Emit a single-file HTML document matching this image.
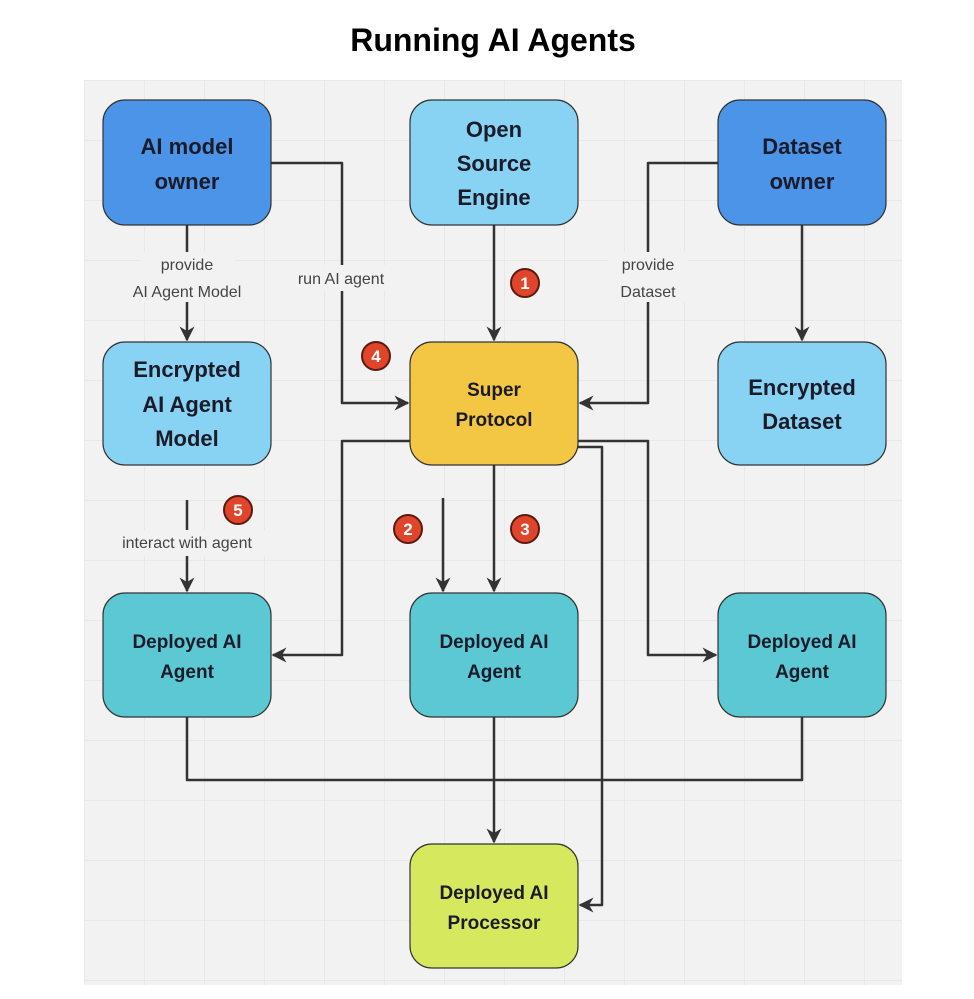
<!DOCTYPE html>
<html><head><meta charset="utf-8"><style>
body{margin:0;background:#fff;width:974px;height:994px;overflow:hidden;font-family:"Liberation Sans",sans-serif}
</style></head><body>
<svg width="974" height="994" viewBox="0 0 974 994" xmlns="http://www.w3.org/2000/svg" font-family="Liberation Sans, sans-serif">
<defs>
<pattern id="g" width="60" height="60" patternUnits="userSpaceOnUse" x="84" y="80">
<path d="M0 0H60M0 0V60" stroke="#e4e4e4" stroke-width="1.5" fill="none"/>
</pattern>
<marker id="a" viewBox="0 0 10 10" refX="9" refY="5" markerWidth="6" markerHeight="6" orient="auto"><path d="M0 0L10 5L0 10L3 5Z" fill="#333"/></marker>
</defs>
<text x="493" y="51" text-anchor="middle" font-size="32" font-weight="bold" fill="#000">Running AI Agents</text>
<rect x="84" y="80" width="818" height="905" fill="#f2f2f2"/>
<rect x="84" y="80" width="818" height="905" fill="url(#g)"/>
<g stroke="#333" stroke-width="2.5" fill="none" stroke-linejoin="round">
<path d="M271 163H342V403H408" marker-end="url(#a)"/>
<path d="M187 225V340" marker-end="url(#a)"/>
<path d="M494 225V340" marker-end="url(#a)"/>
<path d="M718 163H648V403H580" marker-end="url(#a)"/>
<path d="M802 225V340" marker-end="url(#a)"/>
<path d="M410 441H342V655H273" marker-end="url(#a)"/>
<path d="M494 465V591" marker-end="url(#a)"/>
<path d="M443 498V591" marker-end="url(#a)"/>
<path d="M578 441H648V655H716" marker-end="url(#a)"/>
<path d="M578 447H602V905H580" marker-end="url(#a)"/>
<path d="M187 500V591" marker-end="url(#a)"/>
<path d="M187 717V780H802V717"/>
<path d="M494 717V842" marker-end="url(#a)"/>
</g>
<g fill="#f2f2f2">
<rect x="140" y="252" width="95" height="50"/>
<rect x="285" y="265" width="112" height="26"/>
<rect x="608" y="252" width="80" height="50"/>
<rect x="100" y="530" width="175" height="26"/>
</g>
<g font-size="16" fill="#444" text-anchor="middle">
<text x="187" y="270">provide</text><text x="187" y="297">AI Agent Model</text>
<text x="341" y="284">run AI agent</text>
<text x="648" y="270">provide</text><text x="648" y="297">Dataset</text>
<text x="187" y="548">interact with agent</text>
</g>
<g stroke="#333" stroke-width="1.2">
<rect x="103" y="100" width="168" height="125" rx="22" fill="#4b94e8"/>
<rect x="410" y="100" width="168" height="125" rx="22" fill="#88d3f3"/>
<rect x="718" y="100" width="168" height="125" rx="22" fill="#4b94e8"/>
<rect x="103" y="342" width="168" height="123" rx="22" fill="#88d3f3"/>
<rect x="410" y="342" width="168" height="123" rx="22" fill="#f3c643"/>
<rect x="718" y="342" width="168" height="123" rx="22" fill="#88d3f3"/>
<rect x="103" y="593" width="168" height="124" rx="22" fill="#5bc8d3"/>
<rect x="410" y="593" width="168" height="124" rx="22" fill="#5bc8d3"/>
<rect x="718" y="593" width="168" height="124" rx="22" fill="#5bc8d3"/>
<rect x="410" y="844" width="168" height="124" rx="22" fill="#d5e85e"/>
</g>
<g font-weight="bold" fill="#1b1b2a" text-anchor="middle" font-size="22">
<text x="187" y="154">AI model</text><text x="187" y="189">owner</text>
<text x="494" y="137">Open</text><text x="494" y="171">Source</text><text x="494" y="205">Engine</text>
<text x="802" y="154">Dataset</text><text x="802" y="189">owner</text>
<text x="187" y="377">Encrypted</text><text x="187" y="412">AI Agent</text><text x="187" y="446">Model</text>
<text x="802" y="395">Encrypted</text><text x="802" y="429">Dataset</text>
<g font-size="19">
<text x="494" y="396">Super</text><text x="494" y="426">Protocol</text>
<text x="187" y="648">Deployed AI</text><text x="187" y="678">Agent</text>
<text x="494" y="648">Deployed AI</text><text x="494" y="678">Agent</text>
<text x="802" y="648">Deployed AI</text><text x="802" y="678">Agent</text>
<text x="494" y="899">Deployed AI</text><text x="494" y="929">Processor</text>
</g></g>
<g stroke="#5a1a10" stroke-width="2" fill="#e0452b">
<circle cx="525" cy="283" r="14"/><circle cx="376" cy="356" r="14"/>
<circle cx="408" cy="529" r="14"/><circle cx="525" cy="529" r="14"/><circle cx="238" cy="510" r="14"/>
</g>
<g fill="#fff" font-weight="bold" font-size="17" text-anchor="middle">
<text x="525" y="289">1</text><text x="376" y="362">4</text><text x="408" y="535">2</text><text x="525" y="535">3</text><text x="238" y="516">5</text>
</g>
</svg>
</body></html>
